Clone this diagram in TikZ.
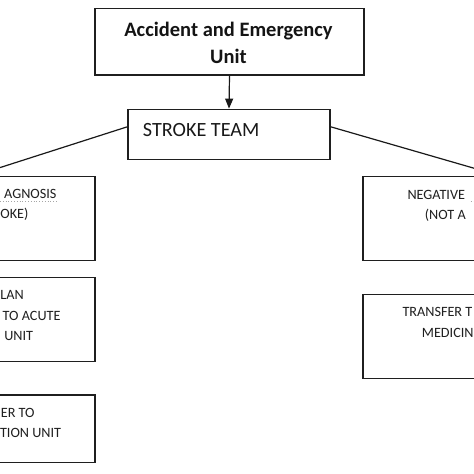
\documentclass[tikz,border=0pt]{standalone}
\usepackage{fontspec}
\setmainfont{Carlito}
\usetikzlibrary{arrows.meta}
\begin{document}
\begin{tikzpicture}[x=1pt,y=-1pt,
  box/.style={draw=black!88, line width=1.4pt, inner sep=0pt},
  ln/.style={inner sep=0pt, font=\fontsize{14.2}{17}\selectfont, text=black!88},
  big/.style={inner sep=0pt, font=\fontsize{20.2}{24}\selectfont, text=black!90},
  bigb/.style={inner sep=0pt, font=\bfseries\fontsize{20.5}{27}\selectfont, text=black!92},
  conn/.style={draw=black!90, line width=1.2pt},
  spell/.style={draw=black!35, line width=0.8pt, dotted},
]
\path[use as bounding box] (0,0) rectangle (474,474);
\clip (0,0) rectangle (474,474);
\fill[white] (0,0) rectangle (474,474);

% top box
\node[box, minimum width=269pt, minimum height=66.7pt] (ae) at (229.5,41.7) {};
\node[bigb, anchor=base] (ae1) at (228.5,36) {Accident and Emergency};
\node[bigb, anchor=base] (ae2) at (228.5,63) {Unit};

% stroke team
\node[box, minimum width=202pt, minimum height=50pt] (st) at (229,134.3) {};
\node[big, anchor=base west] (st1) at (142.7,136.7) {STROKE TEAM};

\draw[conn, -{Triangle[length=10pt,width=8pt]}] (ae.south) -- (st.north);

\coordinate (lend) at (-20,174);
\coordinate (rend) at (494,174);
\draw[conn] ([yshift=7.5pt]st.west) -- (lend);
\draw[conn] ([yshift=7.5pt]st.east) -- (rend);

% left column
\node[box, minimum width=245pt, minimum height=84pt] (l1) at (-27.5,218.7) {};
\node[ln, anchor=base east] (l1a) at (56.7,198.3) {AGNOSIS};
\node[ln, anchor=base east] (l1b) at (28.6,218.5) {OKE)};
\draw[spell] (0,201) -- (56.7,201);

\node[box, minimum width=245pt, minimum height=84.4pt] (l2) at (-27.5,319.5) {};
\node[ln, anchor=base west] (l2a) at (0.3,299.3) {LAN};
\node[ln, anchor=base east] (l2b) at (60.7,320) {TO ACUTE};
\node[ln, anchor=base east] (l2c) at (33.3,340.7) {UNIT};

\node[box, minimum width=245pt, minimum height=67.7pt] (l3) at (-27.5,428.9) {};
\node[ln, anchor=base east] (l3a) at (34.8,417.3) {ER TO};
\node[ln, anchor=base east] (l3b) at (61.3,437.7) {TION UNIT};

% right column
\node[box, minimum width=257pt, minimum height=84pt] (r1) at (491.5,218.7) {};
\node[ln, anchor=base west] (r1a) at (407.3,199.3) {NEGATIVE};
\node[ln, anchor=base west] (r1b) at (424.7,219.3) {(NOT A};
\draw[spell] (470.7,201) -- (474,201);

\node[box, minimum width=257pt, minimum height=84pt] (r2) at (491.5,336.3) {};
\node[ln, anchor=base west] (r2a) at (402.3,316.7) {TRANSFER T};
\node[ln, anchor=base west] (r2b) at (421.7,337.3) {MEDICIN};
\end{tikzpicture}
\end{document}
